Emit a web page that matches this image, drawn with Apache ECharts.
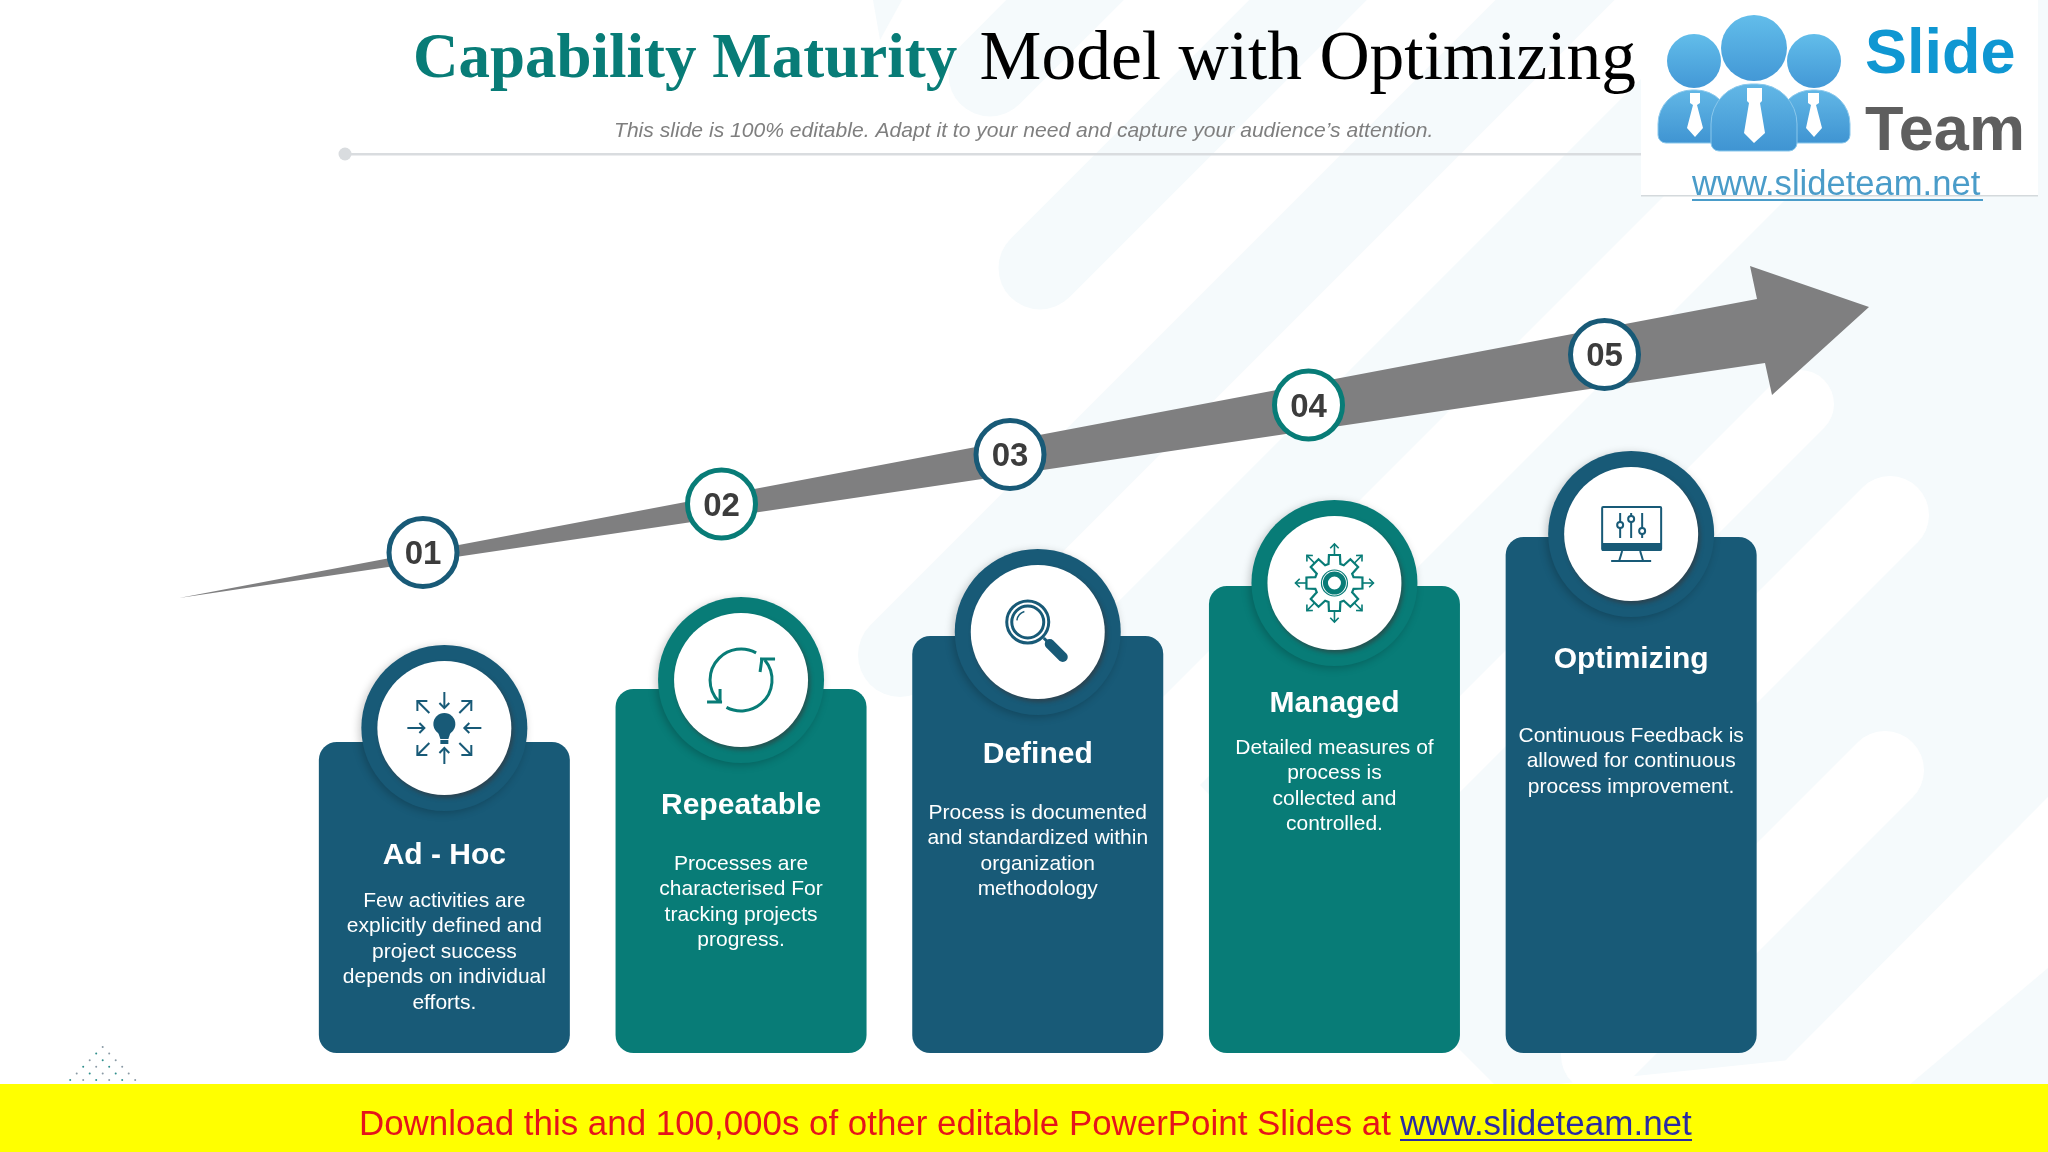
<!DOCTYPE html>
<html>
<head>
	<meta charset="utf-8">
	<title>Capability Maturity Model with Optimizing</title>
	<script src="https://cdn.jsdelivr.net/npm/echarts@6/dist/echarts.min.js"></script>
	<style>
		html, body { margin: 0; padding: 0; background: #fff; }
		#main { width: 2048px; height: 1152px; }
	</style>
</head>
<body>
	<div id="main"></div>
	<script type="text/javascript">
		// chart content
		var stages = ['Ad - Hoc', 'Repeatable', 'Defined', 'Managed', 'Optimizing'];
		var badgeLabels = ['01', '02', '03', '04', '05'];
		var descriptions = [
			'Few activities are\nexplicitly defined and\nproject success\ndepends on individual\nefforts.',
			'Processes are\ncharacterised For\ntracking projects\nprogress.',
			'Process is documented\nand standardized within\norganization\nmethodology',
			'Detailed measures of\nprocess is\ncollected and\ncontrolled.',
			'Continuous Feedback is\nallowed for continuous\nprocess improvement.'
		];
		var cardHeights = [311, 364, 417, 467, 516];
		var ringHeights = [325, 373, 421, 470, 519];
		var titleHeights = [197, 247, 298, 349, 393];
		var bodyHeights = [165, 202, 253, 318, 330];
		var badgeX = [423, 721.5, 1010, 1308.5, 1604.5];
		var badgeY = [552.5, 504, 454.5, 405, 354.5];
		var arrowX = [179, 1757, 1750, 1869, 1772, 1765];
		var arrowY = [598, 299, 266, 307, 395, 363];

		var NAVY = '#185a77';
		var TEAL = '#087c77';
		var PALE = '#f5fafc';
		var cardColors = [NAVY, TEAL, NAVY, TEAL, NAVY];
		var SANS = '"Liberation Sans", Arial, sans-serif';

		// icon pieces, drawn around the centre of each ring
		function seg(x1, y1, x2, y2, c, w, cap) {
			return { type: 'line', shape: { x1: x1, y1: y1, x2: x2, y2: y2 }, style: { stroke: c, lineWidth: w || 2, lineCap: cap || 'butt', fill: 'none' } };
		}
		function dot(x, y, r, c) {
			return { type: 'circle', shape: { cx: x, cy: y, r: r }, style: { fill: c } };
		}
		function hoop(x, y, r, c, w, fill) {
			return { type: 'circle', shape: { cx: x, cy: y, r: r }, style: { stroke: c, lineWidth: w, fill: fill || 'none' } };
		}
		function bow(r, a0, a1, c, w) {
			return { type: 'arc', shape: { cx: 0, cy: 0, r: r, startAngle: a0, endAngle: a1, clockwise: true }, style: { stroke: c, lineWidth: w, fill: 'none' } };
		}
		// an arrow from (x1,y1) to (x2,y2) with an open head
		function pointer(x1, y1, x2, y2, head, c, w) {
			var a = Math.atan2(y2 - y1, x2 - x1);
			var pts = [
				[x2 - head * Math.cos(a - 0.78), y2 - head * Math.sin(a - 0.78)],
				[x2, y2],
				[x2 - head * Math.cos(a + 0.78), y2 - head * Math.sin(a + 0.78)]
			];
			return [
				seg(x1, y1, x2, y2, c, w),
				{ type: 'polyline', shape: { points: pts }, style: { stroke: c, lineWidth: w, fill: 'none' } }
			];
		}

		function iconAdHoc() {
			var c = NAVY, parts = [];
			parts = parts.concat(
				pointer(0, -36, 0, -20, 7, c, 2), pointer(0, 36, 0, 20, 7, c, 2),
				pointer(-37, 0, -20, 0, 7, c, 2), pointer(37, 0, 20, 0, 7, c, 2),
				pointer(-15, -15, -27, -27, 10, c, 2), pointer(15, -15, 27, -27, 10, c, 2),
				pointer(-15, 15, -27, 27, 10, c, 2), pointer(15, 15, 27, 27, 10, c, 2)
			);
			parts.push(dot(0, -4, 11, c));
			parts.push({ type: 'polygon', shape: { points: [[-7, 2], [7, 2], [4, 11], [-4, 11]] }, style: { fill: c } });
			parts.push({ type: 'rect', shape: { x: -4, y: 12, width: 8, height: 4 }, style: { fill: c } });
			return parts;
		}
		function iconRepeat() {
			var c = TEAL, w = 3;
			return [
				bow(31, 2.356, 5.22, c, w),
				bow(31, -0.7, 2.06, c, w),
				seg(19, -21, 34, -21, c, w),
				seg(21, -22, 19, -8, c, w),
				seg(-34, 22, -19, 22, c, w),
				seg(-21, 23, -21, 9, c, w)
			];
		}
		function iconSearch() {
			var c = NAVY;
			return [
				hoop(-10, -10, 21, c, 3, '#fff'),
				hoop(-10, -10, 16, c, 3),
				{ type: 'arc', shape: { cx: -10, cy: -10, r: 11, startAngle: 3.3, endAngle: 4.4, clockwise: true }, style: { stroke: c, lineWidth: 1.5, fill: 'none' } },
				seg(6, 6, 11, 11, c, 3),
				seg(12, 12, 25, 25, c, 10, 'round')
			];
		}
		function iconGear() {
			var c = TEAL, parts = [], gearPts = [];
			for (var k = 0; k < 8; k++) {
				var a = k * Math.PI / 4 - Math.PI / 2;
				var ca = Math.cos(a), sa = Math.sin(a);
				gearPts.push([20 * Math.cos(a - 0.3), 20 * Math.sin(a - 0.3)]);
				gearPts.push([28 * ca + 5.5 * sa, 28 * sa - 5.5 * ca]);
				gearPts.push([28 * ca - 5.5 * sa, 28 * sa + 5.5 * ca]);
				gearPts.push([20 * Math.cos(a + 0.3), 20 * Math.sin(a + 0.3)]);
				parts = parts.concat(pointer(28 * ca, 28 * sa, 39 * ca, 39 * sa, 6, c, 1.6));
			}
			parts.push({ type: 'polygon', shape: { points: gearPts }, style: { stroke: c, lineWidth: 2.2, fill: 'none', lineJoin: 'miter' } });
			parts.push(hoop(0, 0, 9, c, 5));
			parts.push(hoop(0, 0, 13, c, 1.2));
			return parts;
		}
		function iconMonitor() {
			var c = NAVY;
			return [
				{ type: 'rect', shape: { x: -29, y: -27, width: 59, height: 43, r: 1 }, style: { stroke: c, lineWidth: 2, fill: 'none' } },
				{ type: 'rect', shape: { x: -29, y: 9, width: 59, height: 8 }, style: { fill: c } },
				seg(-11, -21, -11, 4, c, 2), seg(0, -21, 0, 4, c, 2), seg(11, -21, 11, 4, c, 2),
				hoop(-11, -9, 3, c, 2, '#fff'), hoop(0, -15, 3, c, 2, '#fff'), hoop(11, -3, 3, c, 2, '#fff'),
				seg(-9, 17, -12, 27, c, 2), seg(9, 17, 12, 27, c, 2),
				seg(-20, 27, 20, 27, c, 2)
			];
		}
		var iconParts = [iconAdHoc(), iconRepeat(), iconSearch(), iconGear(), iconMonitor()];

		// pale diagonal stripes behind the slide
		function stripe(x1, y1, x2, y2, w, c) {
			return { type: 'line', z: 0, silent: true, shape: { x1: x1, y1: y1, x2: x2, y2: y2 }, style: { stroke: c, lineWidth: w, lineCap: 'round' } };
		}
		var slideBack = [
			{ type: 'polygon', z: 0, silent: true, shape: { points: [[873, 0], [902, 0], [880, 40]] }, style: { fill: PALE } },
			stripe(1190, -125, 990, 75, 83, PALE),
			stripe(1460, -152, 1040, 268, 83, PALE),
			stripe(1700, -145, 900, 655, 84, PALE),
			stripe(1950, -160, 1000, 790, 99, PALE),
			{ type: 'polygon', z: 0, silent: true, shape: { points: [[1985, 0], [2048, 0], [2048, 802], [1790, 1060], [1500, 1090], [1450, 1040], [1200, 785]] }, style: { fill: PALE } },
			stripe(1800, 404, 1250, 954, 68, '#fff'),
			stripe(1890, 515, 1550, 855, 78, '#fff'),
			stripe(1885, 770, 1600, 1055, 78, '#fff'),
			{ type: 'polygon', z: 0, silent: true, shape: { points: [[2048, 797], [2048, 968], [1930, 1086], [1760, 1086]] }, style: { fill: '#fff' } },
			{ type: 'polygon', z: 0, silent: true, shape: { points: [[2048, 968], [2048, 1086], [1908, 1086]] }, style: { fill: PALE } }
		];

		// the small dotted triangle at bottom left
		var dottedMark = [];
		for (var row = 0; row < 6; row++) {
			for (var d = 0; d <= row; d++) {
				dottedMark.push({
					type: 'circle', z: 1, silent: true,
					shape: { cx: 102.7 + (d - row / 2) * 13, cy: 1047 + row * 6.6, r: 1 },
					style: { fill: (row + d) % 2 ? '#2f8f8c' : '#8a9aa5' }
				});
			}
		}

		function vgrad(a, b) {
			return new echarts.graphic.LinearGradient(0, 0, 0, 1, [{ offset: 0, color: a }, { offset: 1, color: b }]);
		}
		function poly(pts, fill) {
			return { type: 'polygon', z: 21, silent: true, shape: { points: pts }, style: { fill: fill } };
		}
		function logoBody(x, y, w, h, r) {
			return { type: 'rect', z: 21, silent: true, shape: { x: x, y: y, width: w, height: h, r: [r, r, 8, 8] }, style: { fill: vgrad('#62b7e6', '#3f94d2'), stroke: '#8ac8ec', lineWidth: 1 } };
		}
		function logoHead(x, y, r) {
			return { type: 'circle', z: 21, silent: true, shape: { cx: x, cy: y, r: r }, style: { fill: vgrad('#62bdea', '#4398d6') } };
		}
		var logo = [
			{ type: 'rect', z: 20, silent: true, shape: { x: 1641, y: 0, width: 397, height: 195 }, style: { fill: '#fff' } },
			{ type: 'rect', z: 20, silent: true, shape: { x: 1641, y: 195, width: 397, height: 1.5 }, style: { fill: '#d4d9dc' } },
			logoBody(1658, 90, 72, 53, 34), logoBody(1778, 90, 72, 53, 34),
			logoHead(1694, 61, 27), logoHead(1814, 61, 27),
			logoBody(1711, 84, 86, 67, 40),
			logoHead(1754, 48, 33),
			poly([[1690, 93], [1700, 93], [1700, 103], [1697, 105], [1703, 128], [1695, 137], [1687, 128], [1693, 105], [1690, 103]], '#fff'),
			poly([[1808, 93], [1819, 93], [1819, 103], [1816, 105], [1822, 128], [1814, 137], [1806, 128], [1811, 105], [1808, 103]], '#fff'),
			poly([[1747, 88], [1762, 88], [1762, 101], [1760, 103], [1765, 133], [1754, 143], [1744, 133], [1749, 103], [1747, 101]], '#fff'),
			{ type: 'text', z: 21, silent: true, style: { x: 1865, y: 56, text: 'Slide', font: 'bold 63px ' + SANS, fill: '#0f97d2', verticalAlign: 'middle' } },
			{ type: 'text', z: 21, silent: true, style: { x: 1865, y: 133, text: 'Team', font: 'bold 63px ' + SANS, fill: '#5e5e5e', verticalAlign: 'middle' } },
			{ type: 'text', z: 21, silent: true, style: { x: 1692, y: 185, text: 'www.slideteam.net', font: '34.6px ' + SANS, fill: '#4a9cc9', verticalAlign: 'middle' } },
			{ type: 'rect', z: 21, silent: true, shape: { x: 1692, y: 199, width: 291, height: 2 }, style: { fill: '#4a9cc9' } }
		];

		var banner = [
			{ type: 'rect', z: 20, silent: true, shape: { x: 0, y: 1084, width: 2048, height: 68 }, style: { fill: '#ffff00' } },
			{ type: 'text', z: 21, silent: true, style: { x: 359, y: 1125, text: 'Download this and 100,000s of other editable PowerPoint Slides at', font: '34.9px ' + SANS, fill: '#e5141b', verticalAlign: 'middle' } },
			{ type: 'text', z: 21, silent: true, style: { x: 1400, y: 1125, text: 'www.slideteam.net', font: '35px ' + SANS, fill: '#2b2ba3', verticalAlign: 'middle' } },
			{ type: 'rect', z: 21, silent: true, shape: { x: 1400, y: 1139, width: 292, height: 2 }, style: { fill: '#2b2ba3' } }
		];

		var headerRule = [
			{ type: 'rect', z: 1, silent: true, shape: { x: 345, y: 153, width: 1300, height: 2.5 }, style: { fill: '#d9dcdf' } },
			{ type: 'circle', z: 1, silent: true, shape: { cx: 345, cy: 154, r: 6.5 }, style: { fill: '#d9dcdf' } }
		];

		function rowsOf(xs, ys) {
			return xs.map(function (x, i) { return [x, ys[i]]; });
		}

		var option = {
			animation: false,
			backgroundColor: '#fff',
			title: [
				{
					left: 408, top: 21,
					text: '{a|Capability Maturity} {b| Model with Optimizing}',
					textStyle: {
						rich: {
							a: { fontFamily: '"Liberation Serif", serif', fontWeight: 'bold', fontSize: 63, color: TEAL },
							b: { fontFamily: '"Liberation Serif", serif', fontWeight: 'normal', fontSize: 69.5, color: '#000' }
						}
					}
				},
				{
					left: 609, top: 116,
					text: 'This slide is 100% editable. Adapt it to your need and capture your audience\u2019s attention.',
					textStyle: { fontFamily: SANS, fontStyle: 'italic', fontWeight: 'normal', fontSize: 21.1, color: '#7f7f7f' }
				}
			],
			grid: [
				{ left: 0, top: 0, width: 2048, height: 1152 },
				{ left: 296, top: 0, width: 1483.5, height: 1053 }
			],
			xAxis: [
				{ type: 'value', gridIndex: 0, min: 0, max: 2048, show: false },
				{ type: 'category', gridIndex: 1, data: stages, show: false }
			],
			yAxis: [
				{ type: 'value', gridIndex: 0, min: 0, max: 1152, inverse: true, show: false },
				{ type: 'value', gridIndex: 1, min: 0, max: 1053, show: false }
			],
			graphic: { elements: slideBack.concat(dottedMark, headerRule, logo, banner) },
			series: [
				{
					name: 'arrow', type: 'custom', xAxisIndex: 0, yAxisIndex: 0, z: 2, silent: true,
					data: rowsOf(arrowX, arrowY),
					renderItem: function (params, api) {
						if (params.dataIndex !== 0) return null;
						var pts = arrowX.map(function (x, i) { return api.coord([x, arrowY[i]]); });
						return { type: 'polygon', shape: { points: pts }, style: { fill: '#7f7f80' } };
					}
				},
				{
					name: 'badges', type: 'scatter', xAxisIndex: 0, yAxisIndex: 0, z: 3, silent: true,
					data: badgeX.map(function (x, i) {
						return {
							value: [x, badgeY[i]],
							itemStyle: { opacity: 1, color: '#fff', borderColor: cardColors[i], borderWidth: 5 }
						};
					}),
					symbolSize: 68,
					label: {
						show: true, position: 'inside', offset: [0, 2.5], color: '#3c3c3c', fontFamily: SANS, fontWeight: 'bold', fontSize: 33,
						formatter: function (p) { return badgeLabels[p.dataIndex]; }
					}
				},
				{
					name: 'cards', type: 'bar', xAxisIndex: 1, yAxisIndex: 1, z: 4, silent: true,
					barWidth: 251,
					data: cardHeights.map(function (h, i) {
						return { value: h, itemStyle: { color: cardColors[i], borderRadius: 18 } };
					})
				},
				{
					name: 'rings', type: 'scatter', xAxisIndex: 1, yAxisIndex: 1, z: 5, silent: true,
					symbolSize: 166,
					data: ringHeights.map(function (h, i) {
						return {
							value: [i, h],
							itemStyle: { opacity: 1, color: cardColors[i], shadowColor: 'rgba(0,0,0,0.22)', shadowBlur: 8, shadowOffsetX: -2, shadowOffsetY: 2 }
						};
					})
				},
				{
					name: 'discs', type: 'scatter', xAxisIndex: 1, yAxisIndex: 1, z: 6, silent: true,
					symbolSize: 134,
					data: ringHeights.map(function (h, i) { return [i, h]; }),
					itemStyle: { opacity: 1, color: '#fff', shadowColor: 'rgba(60,50,50,0.55)', shadowBlur: 4, shadowOffsetX: 2, shadowOffsetY: 3 }
				},
				{
					name: 'icons', type: 'custom', xAxisIndex: 1, yAxisIndex: 1, z: 7, silent: true,
					data: ringHeights.map(function (h, i) { return [i, h]; }),
					renderItem: function (params, api) {
						var p = api.coord([api.value(0), api.value(1)]);
						return { type: 'group', x: p[0], y: p[1], children: iconParts[params.dataIndex] };
					}
				},
				{
					name: 'stage names', type: 'scatter', xAxisIndex: 1, yAxisIndex: 1, z: 8, silent: true,
					symbolSize: 1, itemStyle: { opacity: 1, color: 'transparent' },
					data: titleHeights.map(function (h, i) { return [i, h]; }),
					label: {
						show: true, position: 'inside', color: '#fff', fontFamily: SANS, fontWeight: 'bold', fontSize: 30,
						formatter: function (p) { return stages[p.dataIndex]; }
					}
				},
				{
					name: 'stage notes', type: 'scatter', xAxisIndex: 1, yAxisIndex: 1, z: 8, silent: true,
					symbolSize: 1, itemStyle: { opacity: 1, color: 'transparent' },
					data: bodyHeights.map(function (h, i) { return [i, h]; }),
					label: {
						show: true, position: 'inside', color: '#fff', fontFamily: SANS, fontSize: 21, lineHeight: 25.6,
						align: 'center', verticalAlign: 'top',
						formatter: function (p) { return descriptions[p.dataIndex]; }
					}
				}
			]
		};

		var myChart = echarts.init(document.getElementById('main'));
		myChart.setOption(option);
	</script>
</body>
</html>
